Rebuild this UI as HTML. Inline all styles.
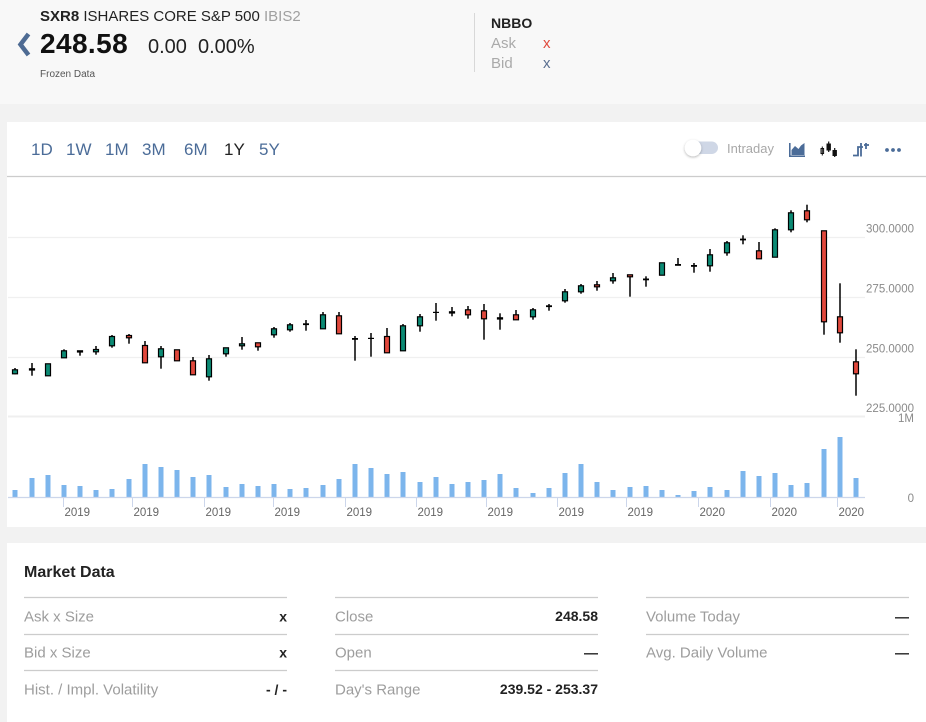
<!DOCTYPE html>
<html>
<head>
<meta charset="utf-8">
<style>
  html,body{margin:0;padding:0;}
  body{width:926px;height:722px;overflow:hidden;background:#f2f2f2;font-family:"Liberation Sans",sans-serif;}
  svg{position:absolute;left:0;top:0;}
  text{font-family:"Liberation Sans",sans-serif;}
</style>
</head>
<body>
<svg width="926" height="722" viewBox="0 0 926 722" xmlns="http://www.w3.org/2000/svg">
  <defs>
    <filter id="sh" x="-50%" y="-50%" width="200%" height="200%">
      <feDropShadow dx="0" dy="1" stdDeviation="1.2" flood-color="#000" flood-opacity="0.3"/>
    </filter>
  </defs>
  <!-- backgrounds -->
  <rect x="0" y="0" width="926" height="722" fill="#f2f2f2"/>
  <rect x="0" y="0" width="926" height="104" fill="#f8f8f8"/>
  <rect x="7" y="122" width="919" height="405" fill="#ffffff"/>
  <rect x="7" y="543" width="919" height="179" fill="#ffffff"/>

  <!-- header -->
  <path d="M28.5 34 L20.5 44.5 L28.5 55" fill="none" stroke="#4e6b93" stroke-width="4.5" stroke-linejoin="miter"/>
  <text x="40" y="21" font-size="15" fill="#222"><tspan font-weight="bold">SXR8</tspan> ISHARES CORE S&amp;P 500 <tspan fill="#a0a0a0">IBIS2</tspan></text>
  <text x="40" y="53" font-size="28" font-weight="bold" fill="#111" letter-spacing="0.4">248.58</text>
  <text x="148" y="53" font-size="20" fill="#222">0.00</text>
  <text x="198" y="53" font-size="20" fill="#222">0.00%</text>
  <text x="40" y="77" font-size="10" fill="#555">Frozen Data</text>
  <line x1="474.5" y1="13" x2="474.5" y2="72" stroke="#d8d8d8" stroke-width="1"/>
  <text x="491" y="28" font-size="14" font-weight="bold" fill="#222">NBBO</text>
  <text x="491" y="48" font-size="15" fill="#aaa">Ask</text>
  <text x="543" y="48" font-size="15" fill="#e04a3c">x</text>
  <text x="491" y="68" font-size="15" fill="#aaa">Bid</text>
  <text x="543" y="68" font-size="15" fill="#5a6f90">x</text>

  <!-- toolbar -->
  <g font-size="17" fill="#4b6c98">
    <text x="31" y="155">1D</text>
    <text x="66" y="155">1W</text>
    <text x="105" y="155">1M</text>
    <text x="142" y="155">3M</text>
    <text x="184" y="155">6M</text>
    <text x="224" y="155" fill="#222">1Y</text>
    <text x="259" y="155">5Y</text>
  </g>
  <rect x="689" y="141.5" width="29" height="12.5" rx="6.25" fill="#cfd7e6"/>
  <circle cx="693" cy="148" r="8.3" fill="#fff" filter="url(#sh)"/>
  <text x="727" y="153" font-size="13" fill="#a8a8a8">Intraday</text>
  <!-- area icon -->
  <g fill="#4b6c98">
    <rect x="789" y="143" width="1.6" height="14"/>
    <rect x="789" y="155.4" width="16" height="1.6"/>
    <path d="M791.5 155 L791.5 150 L795 146 L798.5 149 L801 145.5 L804.5 143 L804.5 155 Z"/>
  </g>
  <!-- candle icon -->
  <g fill="#111" stroke="#111">
    <rect x="821" y="148.5" width="2.6" height="5" stroke-width="1" fill="#fff"/>
    <line x1="822.3" y1="146.5" x2="822.3" y2="155.5" stroke-width="1"/>
    <rect x="827" y="144" width="3.4" height="6" stroke-width="1"/>
    <line x1="828.7" y1="141.5" x2="828.7" y2="152" stroke-width="1.2"/>
    <rect x="833" y="150.5" width="3.4" height="5" stroke-width="1"/>
    <line x1="834.7" y1="148" x2="834.7" y2="157" stroke-width="1.2"/>
  </g>
  <!-- step icon -->
  <g fill="none" stroke="#4b6c98" stroke-width="1.8">
    <path d="M853 155.5 L858 155.5 L858 147 L863 147"/>
    <path d="M861 143 L861 156.5"/>
    <path d="M864 145 L869 145"/>
    <path d="M866 143 L866 149"/>
  </g>
  <g fill="#4b6c98">
    <circle cx="887" cy="150" r="1.9"/>
    <circle cx="893" cy="150" r="1.9"/>
    <circle cx="899" cy="150" r="1.9"/>
  </g>
  <line x1="7" y1="176.5" x2="926" y2="176.5" stroke="#cccccc" stroke-width="1.2"/>

  <!-- gridlines -->
  <g stroke="#f0f0f0" stroke-width="1.2">
    <line x1="8" y1="237.5" x2="865" y2="237.5"/>
    <line x1="8" y1="297.5" x2="865" y2="297.5"/>
    <line x1="8" y1="357.5" x2="865" y2="357.5"/>
  </g>
  <line x1="8" y1="416.5" x2="865" y2="416.5" stroke="#efefef" stroke-width="2"/>

  <!-- y labels -->
  <g font-size="11.5" fill="#8a8a8a" text-anchor="end">
    <text x="914" y="232.5">300.0000</text>
    <text x="914" y="292.5">275.0000</text>
    <text x="914" y="352.5">250.0000</text>
    <text x="914" y="412">225.0000</text>
    <text x="914" y="422">1M</text>
    <text x="914" y="502">0</text>
  </g>

  <!-- candle wicks -->
  <g stroke="#000" stroke-width="1.5">
    <line x1="15" y1="368" x2="15" y2="374.3"/>
    <line x1="32" y1="363" x2="32" y2="375.7"/>
    <line x1="64" y1="349.3" x2="64" y2="358"/>
    <line x1="80" y1="351" x2="80" y2="355.7"/>
    <line x1="96" y1="346" x2="96" y2="354.7"/>
    <line x1="112" y1="335" x2="112" y2="347.7"/>
    <line x1="129" y1="334" x2="129" y2="343.7"/>
    <line x1="145" y1="341" x2="145" y2="346"/>
    <line x1="161" y1="346" x2="161" y2="368.7"/>
    <line x1="193" y1="357" x2="193" y2="361"/>
    <line x1="209" y1="355" x2="209" y2="380.7"/>
    <line x1="226" y1="352" x2="226" y2="356.7"/>
    <line x1="242" y1="337" x2="242" y2="349.7"/>
    <line x1="258" y1="345" x2="258" y2="350.7"/>
    <line x1="274" y1="327" x2="274" y2="337.7"/>
    <line x1="290" y1="323" x2="290" y2="331.7"/>
    <line x1="306" y1="320" x2="306" y2="330.7"/>
    <line x1="323" y1="312" x2="323" y2="316"/>
    <line x1="339" y1="312" x2="339" y2="316"/>
    <line x1="355" y1="336" x2="355" y2="360.7"/>
    <line x1="371" y1="333" x2="371" y2="356.7"/>
    <line x1="387" y1="328" x2="387" y2="337"/>
    <line x1="403" y1="324" x2="403" y2="326"/>
    <line x1="420" y1="314" x2="420" y2="331.7"/>
    <line x1="436" y1="303" x2="436" y2="320.7"/>
    <line x1="452" y1="307" x2="452" y2="316.3"/>
    <line x1="468" y1="306" x2="468" y2="318.7"/>
    <line x1="484" y1="304" x2="484" y2="339.7"/>
    <line x1="500" y1="313.3" x2="500" y2="329.7"/>
    <line x1="516" y1="310" x2="516" y2="315"/>
    <line x1="533" y1="308" x2="533" y2="319.7"/>
    <line x1="549" y1="304" x2="549" y2="310.7"/>
    <line x1="565" y1="289" x2="565" y2="302.7"/>
    <line x1="581" y1="284" x2="581" y2="293.7"/>
    <line x1="597" y1="281" x2="597" y2="290.7"/>
    <line x1="613" y1="273" x2="613" y2="283.7"/>
    <line x1="630" y1="276" x2="630" y2="296.7"/>
    <line x1="646" y1="276.3" x2="646" y2="286.7"/>
    <line x1="678" y1="258" x2="678" y2="265.4"/>
    <line x1="694" y1="263" x2="694" y2="272.7"/>
    <line x1="710" y1="249" x2="710" y2="271.7"/>
    <line x1="727" y1="241" x2="727" y2="255.7"/>
    <line x1="743" y1="235.3" x2="743" y2="244.3"/>
    <line x1="759" y1="242" x2="759" y2="251"/>
    <line x1="775" y1="228.3" x2="775" y2="230"/>
    <line x1="791" y1="210.3" x2="791" y2="232.3"/>
    <line x1="807" y1="204.7" x2="807" y2="222.3"/>
    <line x1="824" y1="320" x2="824" y2="334.7"/>
    <line x1="840" y1="283.3" x2="840" y2="342.7"/>
    <line x1="856" y1="349.3" x2="856" y2="395.7"/>
  </g>

  <!-- candle bodies -->
  <g stroke="#000" stroke-width="1.2">
    <rect x="12.5" y="369.8" width="5" height="4" fill="#0b8a74"/>
    <rect x="29.5" y="368.8" width="5" height="1.2" fill="#e0483c"/>
    <rect x="45.5" y="363.8" width="5" height="12" fill="#0b8a74"/>
    <rect x="61.5" y="350.8" width="5" height="7" fill="#0b8a74"/>
    <rect x="77.5" y="350.8" width="5" height="1.2" fill="#e0483c"/>
    <rect x="93.5" y="349.5" width="5" height="2.3" fill="#0b8a74"/>
    <rect x="109.5" y="336.5" width="5" height="9.3" fill="#0b8a74"/>
    <rect x="126.5" y="335.5" width="5" height="2.3" fill="#e0483c"/>
    <rect x="142.5" y="345.5" width="5" height="17.3" fill="#e0483c"/>
    <rect x="158.5" y="348.8" width="5" height="8" fill="#0b8a74"/>
    <rect x="174.5" y="349.8" width="5" height="11" fill="#e0483c"/>
    <rect x="190.5" y="360.8" width="5" height="14" fill="#e0483c"/>
    <rect x="206.5" y="358.8" width="5" height="18" fill="#0b8a74"/>
    <rect x="223.5" y="347.8" width="5" height="6" fill="#0b8a74"/>
    <rect x="239.5" y="343.8" width="5" height="2" fill="#0b8a74"/>
    <rect x="255.5" y="342.8" width="5" height="4" fill="#e0483c"/>
    <rect x="271.5" y="328.8" width="5" height="6" fill="#0b8a74"/>
    <rect x="287.5" y="324.8" width="5" height="5" fill="#0b8a74"/>
    <rect x="320.5" y="314.8" width="5" height="14" fill="#0b8a74"/>
    <rect x="336.5" y="315.8" width="5" height="18" fill="#e0483c"/>
    <rect x="384.5" y="336.5" width="5" height="16.3" fill="#e0483c"/>
    <rect x="400.5" y="325.8" width="5" height="25" fill="#0b8a74"/>
    <rect x="417.5" y="316.8" width="5" height="9" fill="#0b8a74"/>
    <rect x="449.5" y="311.8" width="5" height="1.2" fill="#0b8a74"/>
    <rect x="465.5" y="309.8" width="5" height="5" fill="#e0483c"/>
    <rect x="481.5" y="310.8" width="5" height="8" fill="#e0483c"/>
    <rect x="497.5" y="317.8" width="5" height="1.2" fill="#0b8a74"/>
    <rect x="513.5" y="314.8" width="5" height="5" fill="#e0483c"/>
    <rect x="530.5" y="309.8" width="5" height="7" fill="#0b8a74"/>
    <rect x="562.5" y="291.8" width="5" height="9" fill="#0b8a74"/>
    <rect x="578.5" y="285.8" width="5" height="6" fill="#0b8a74"/>
    <rect x="594.5" y="284.8" width="5" height="2" fill="#e0483c"/>
    <rect x="610.5" y="277.8" width="5" height="3" fill="#0b8a74"/>
    <rect x="627.5" y="274.8" width="5" height="2" fill="#e0483c"/>
    <rect x="659.5" y="262.8" width="5" height="12.4" fill="#0b8a74"/>
    <rect x="707.5" y="254.8" width="5" height="11" fill="#0b8a74"/>
    <rect x="724.5" y="242.8" width="5" height="10" fill="#0b8a74"/>
    <rect x="756.5" y="250.8" width="5" height="8" fill="#e0483c"/>
    <rect x="772.5" y="229.8" width="5" height="27.4" fill="#0b8a74"/>
    <rect x="788.5" y="212.8" width="5" height="17" fill="#0b8a74"/>
    <rect x="804.5" y="210.8" width="5" height="9" fill="#e0483c"/>
    <rect x="821.5" y="230.8" width="5" height="91" fill="#e0483c"/>
    <rect x="837.5" y="316.8" width="5" height="16" fill="#e0483c"/>
    <rect x="853.5" y="361.8" width="5" height="12" fill="#e0483c"/>
  </g>
  <!-- dojis / crosses -->
  <g fill="#000">
    <rect x="303" y="323.3" width="6" height="1.8"/>
    <rect x="352" y="338" width="6" height="1.8"/>
    <rect x="368" y="337.8" width="6" height="1.2"/>
    <rect x="433" y="311.8" width="6" height="1.2"/>
    <rect x="546" y="305.3" width="6" height="1.8"/>
    <rect x="643" y="278.5" width="6" height="1.8"/>
    <rect x="675" y="264" width="6" height="1.8"/>
    <rect x="691" y="265" width="6" height="1.8"/>
    <rect x="740" y="238.6" width="6" height="1.8"/>
  </g>

  <!-- volume bars -->
  <g fill="#7cb5ec">
    <rect x="12.5" y="490" width="5" height="7"/>
    <rect x="29.5" y="478" width="5" height="19"/>
    <rect x="45.5" y="475" width="5" height="22"/>
    <rect x="61.5" y="485" width="5" height="12"/>
    <rect x="77.5" y="486" width="5" height="11"/>
    <rect x="93.5" y="490" width="5" height="7"/>
    <rect x="109.5" y="489" width="5" height="8"/>
    <rect x="126.5" y="479" width="5" height="18"/>
    <rect x="142.5" y="464" width="5" height="33"/>
    <rect x="158.5" y="467" width="5" height="30"/>
    <rect x="174.5" y="470" width="5" height="27"/>
    <rect x="190.5" y="477" width="5" height="20"/>
    <rect x="206.5" y="475" width="5" height="22"/>
    <rect x="223.5" y="487" width="5" height="10"/>
    <rect x="239.5" y="484" width="5" height="13"/>
    <rect x="255.5" y="486" width="5" height="11"/>
    <rect x="271.5" y="484" width="5" height="13"/>
    <rect x="287.5" y="489" width="5" height="8"/>
    <rect x="303.5" y="488" width="5" height="9"/>
    <rect x="320.5" y="485" width="5" height="12"/>
    <rect x="336.5" y="479" width="5" height="18"/>
    <rect x="352.5" y="464" width="5" height="33"/>
    <rect x="368.5" y="468" width="5" height="29"/>
    <rect x="384.5" y="474" width="5" height="23"/>
    <rect x="400.5" y="472" width="5" height="25"/>
    <rect x="417.5" y="482" width="5" height="15"/>
    <rect x="433.5" y="477" width="5" height="20"/>
    <rect x="449.5" y="484" width="5" height="13"/>
    <rect x="465.5" y="482" width="5" height="15"/>
    <rect x="481.5" y="480" width="5" height="17"/>
    <rect x="497.5" y="474" width="5" height="23"/>
    <rect x="513.5" y="488" width="5" height="9"/>
    <rect x="530.5" y="493" width="5" height="4"/>
    <rect x="546.5" y="488" width="5" height="9"/>
    <rect x="562.5" y="473" width="5" height="24"/>
    <rect x="578.5" y="464" width="5" height="33"/>
    <rect x="594.5" y="482" width="5" height="15"/>
    <rect x="610.5" y="490" width="5" height="7"/>
    <rect x="627.5" y="487" width="5" height="10"/>
    <rect x="643.5" y="486" width="5" height="11"/>
    <rect x="659.5" y="490" width="5" height="7"/>
    <rect x="675.5" y="495" width="5" height="2"/>
    <rect x="691.5" y="491" width="5" height="6"/>
    <rect x="707.5" y="487" width="5" height="10"/>
    <rect x="724.5" y="490" width="5" height="7"/>
    <rect x="740.5" y="471" width="5" height="26"/>
    <rect x="756.5" y="476" width="5" height="21"/>
    <rect x="772.5" y="473" width="5" height="24"/>
    <rect x="788.5" y="485" width="5" height="12"/>
    <rect x="804.5" y="483" width="5" height="14"/>
    <rect x="821.5" y="449" width="5" height="48"/>
    <rect x="837.5" y="437" width="5" height="60"/>
    <rect x="853.5" y="478" width="5" height="19"/>
  </g>
  <line x1="8" y1="497.5" x2="865" y2="497.5" stroke="#ccd6eb" stroke-width="1.2"/>
  <!-- x ticks -->
  <g stroke="#ccd6eb" stroke-width="1">
    <line x1="63.5" y1="497" x2="63.5" y2="507"/>
    <line x1="132.5" y1="497" x2="132.5" y2="507"/>
    <line x1="204.5" y1="497" x2="204.5" y2="507"/>
    <line x1="273.5" y1="497" x2="273.5" y2="507"/>
    <line x1="345.5" y1="497" x2="345.5" y2="507"/>
    <line x1="416.5" y1="497" x2="416.5" y2="507"/>
    <line x1="486.5" y1="497" x2="486.5" y2="507"/>
    <line x1="557.5" y1="497" x2="557.5" y2="507"/>
    <line x1="626.5" y1="497" x2="626.5" y2="507"/>
    <line x1="698.5" y1="497" x2="698.5" y2="507"/>
    <line x1="770.5" y1="497" x2="770.5" y2="507"/>
    <line x1="837.5" y1="497" x2="837.5" y2="507"/>
  </g>
  <g font-size="11.5" fill="#666">
    <text x="64.5" y="516">2019</text>
    <text x="133.5" y="516">2019</text>
    <text x="205.5" y="516">2019</text>
    <text x="274.5" y="516">2019</text>
    <text x="346.5" y="516">2019</text>
    <text x="417.5" y="516">2019</text>
    <text x="487.5" y="516">2019</text>
    <text x="558.5" y="516">2019</text>
    <text x="627.5" y="516">2019</text>
    <text x="699.5" y="516">2020</text>
    <text x="771.5" y="516">2020</text>
    <text x="838.5" y="516">2020</text>
  </g>

  <!-- market data -->
  <text x="24" y="577" font-size="16" font-weight="bold" fill="#222">Market Data</text>
  <g stroke="#cccccc" stroke-width="1.2">
    <line x1="24" y1="597.5" x2="287" y2="597.5"/>
    <line x1="24" y1="634.5" x2="287" y2="634.5"/>
    <line x1="24" y1="670.5" x2="287" y2="670.5"/>
    <line x1="335" y1="597.5" x2="598" y2="597.5"/>
    <line x1="335" y1="634.5" x2="598" y2="634.5"/>
    <line x1="335" y1="670.5" x2="598" y2="670.5"/>
    <line x1="646" y1="597.5" x2="909" y2="597.5"/>
    <line x1="646" y1="634.5" x2="909" y2="634.5"/>
  </g>
  <g font-size="15" fill="#9d9d9d">
    <text x="24" y="621.5">Ask x Size</text>
    <text x="24" y="657.5">Bid x Size</text>
    <text x="24" y="694.5">Hist. / Impl. Volatility</text>
    <text x="335" y="621.5">Close</text>
    <text x="335" y="657.5">Open</text>
    <text x="335" y="694.5">Day's Range</text>
    <text x="646" y="621.5">Volume Today</text>
    <text x="646" y="657.5">Avg. Daily Volume</text>
  </g>
  <g font-size="14" font-weight="bold" fill="#222" text-anchor="end">
    <text x="287" y="621.5">x</text>
    <text x="287" y="657.5">x</text>
    <text x="287" y="694.5">- / -</text>
    <text x="598" y="621">248.58</text>
    <text x="598" y="657.5">—</text>
    <text x="598" y="694">239.52 - 253.37</text>
    <text x="909" y="621.5">—</text>
    <text x="909" y="657.5">—</text>
  </g>
</svg>
</body>
</html>
